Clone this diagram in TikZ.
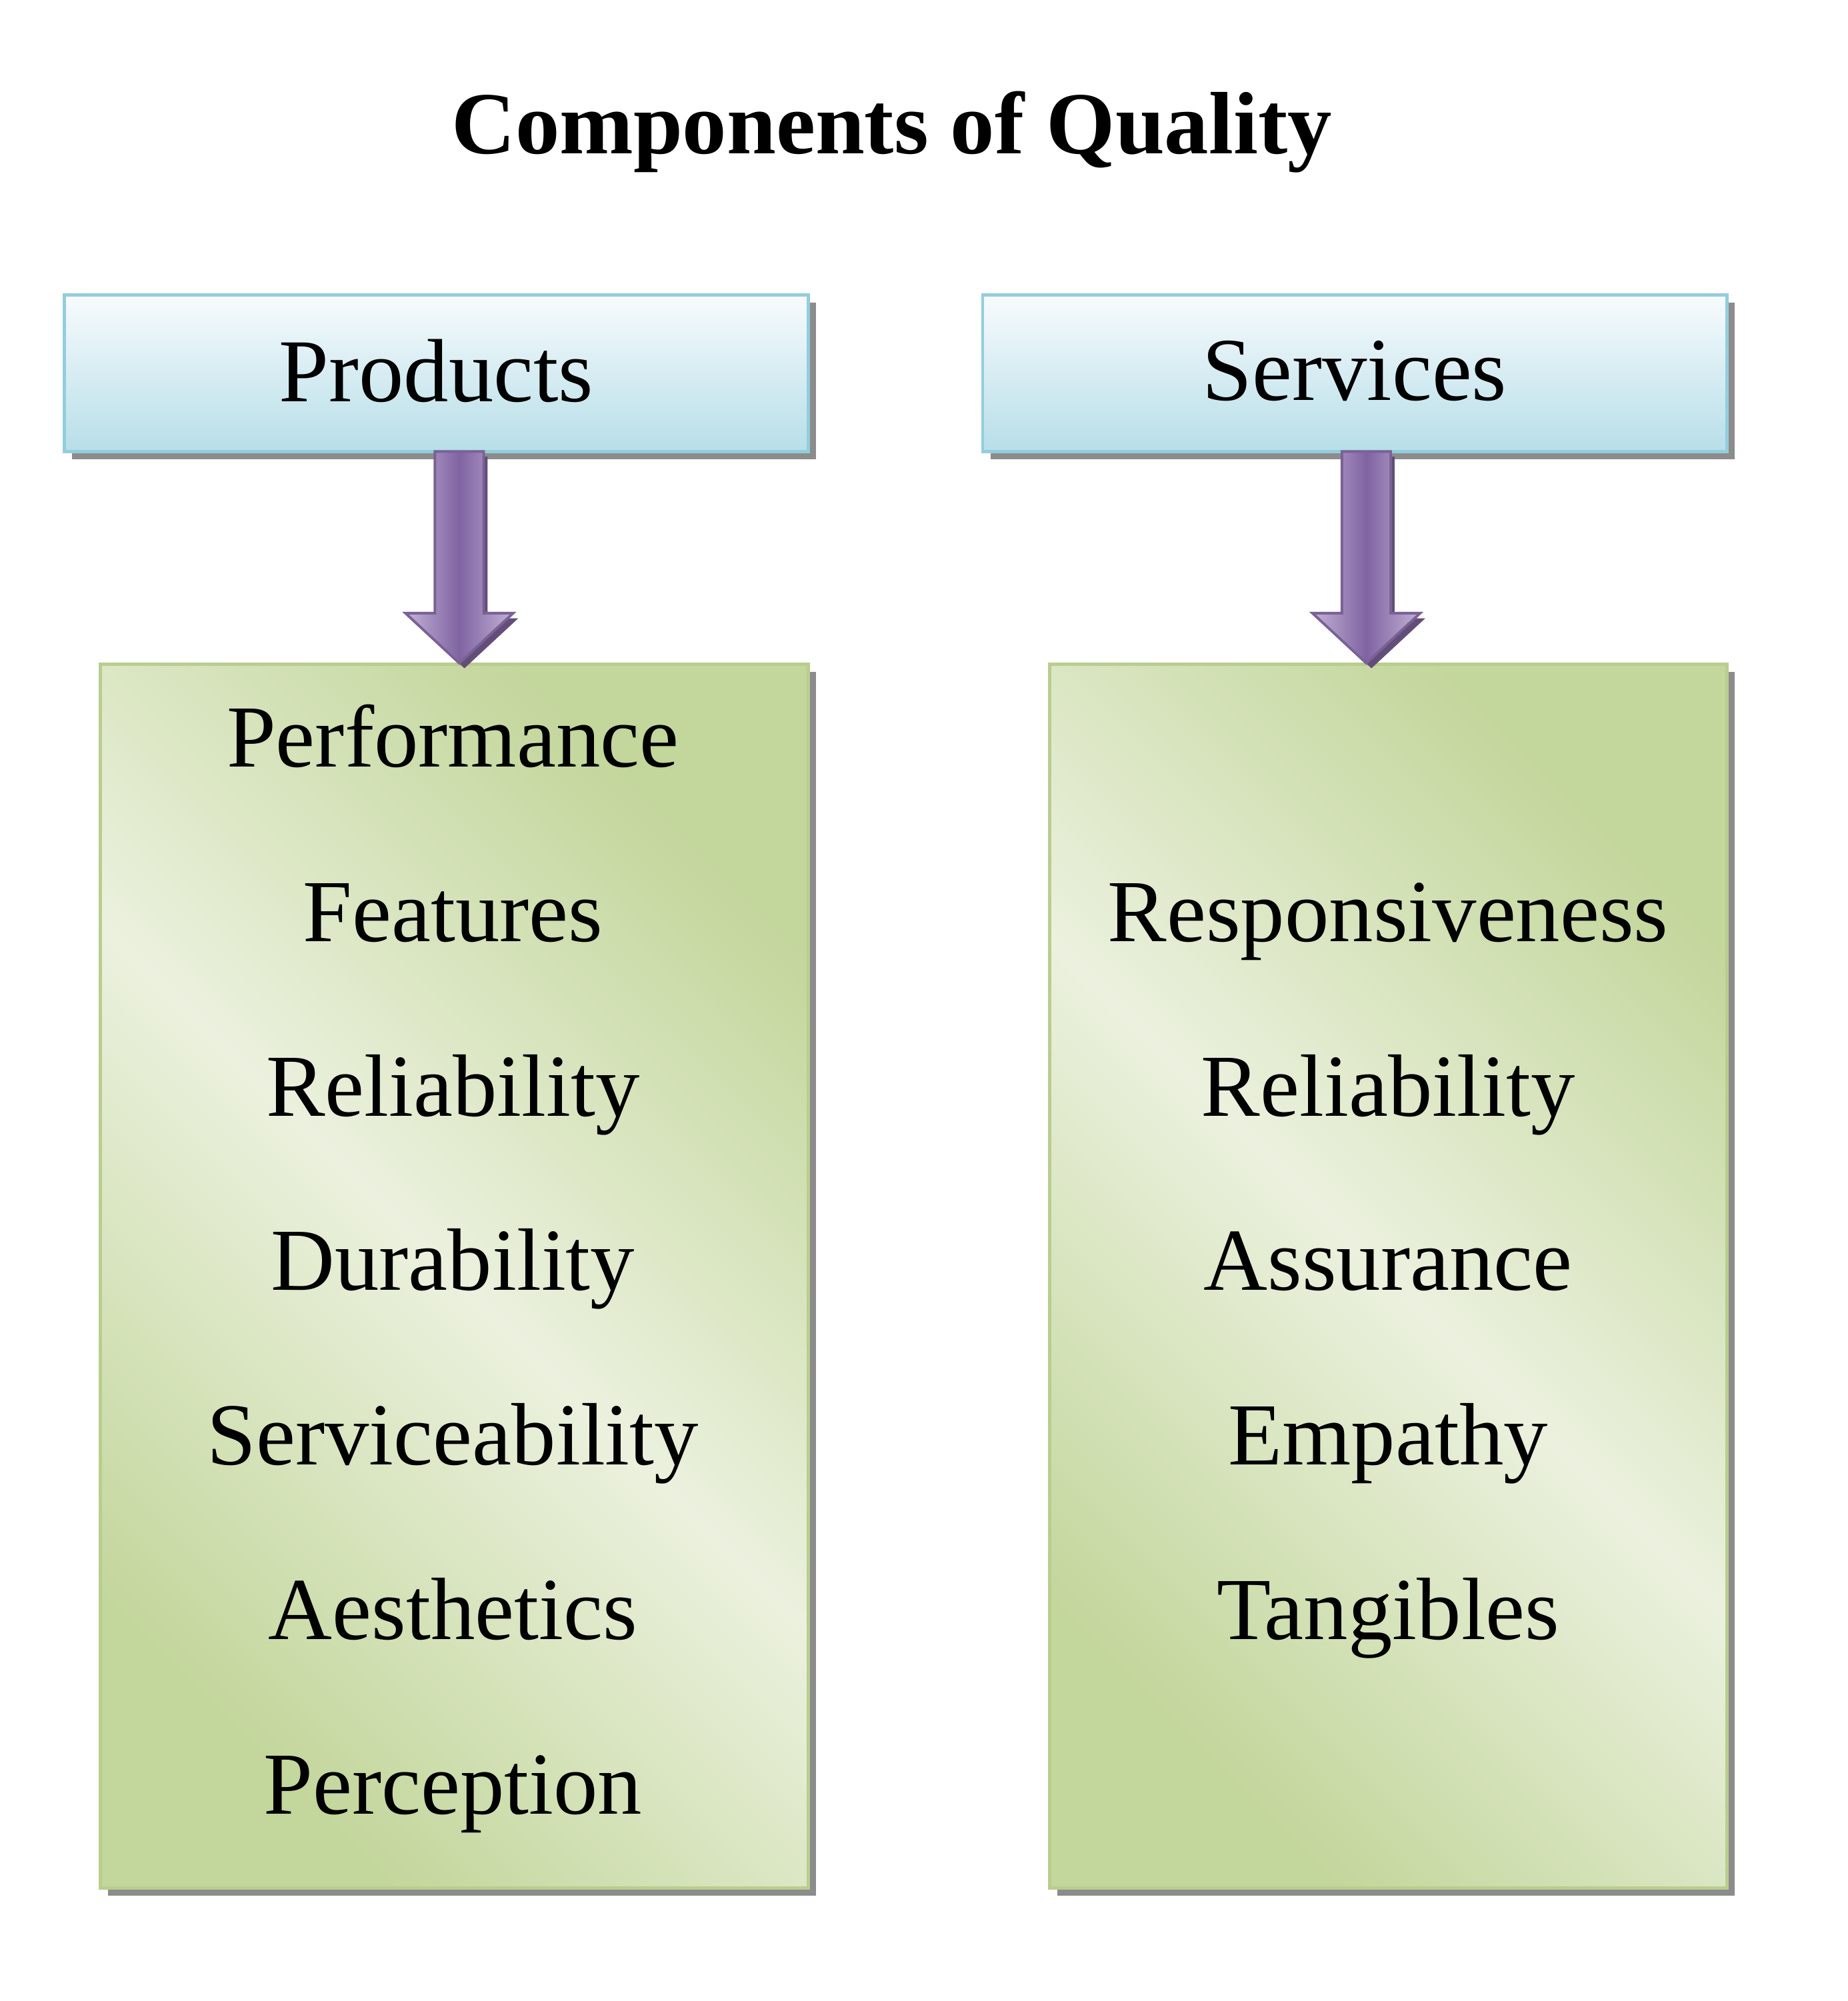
\documentclass[tikz,border=0pt]{standalone}
\usepackage{fontspec}
\setmainfont{Liberation Serif}
\usetikzlibrary{shadings}
\definecolor{bluetop}{HTML}{F7FBFD}
\definecolor{bluebot}{HTML}{B7DEE8}
\definecolor{blueedge}{HTML}{93CDDD}
\definecolor{greenlt}{HTML}{EBF1DE}
\definecolor{greendk}{HTML}{C3D69B}
\definecolor{greenedge}{HTML}{B9CD8F}
\definecolor{purdk}{HTML}{8064A2}
\definecolor{purlt}{HTML}{C2B2D6}
\definecolor{puredge}{HTML}{7A6196}
\begin{document}
\begin{tikzpicture}[x=1pt,y=-1pt,
  headbox/.style={draw=blueedge,line width=2.5pt,top color=bluetop,bottom color=bluebot},
  listbox/.style={draw=greenedge,line width=2.5pt,shading=axis,left color=greendk,right color=greendk,middle color=greenlt,shading angle=-45},
  item/.style={font=\fontsize{69}{72}\selectfont,anchor=base},
  shadowc/.style={fill=black!45}]
\useasboundingbox (0,0) rectangle (1440,1560);
\node[font=\bfseries\fontsize{69}{74}\selectfont] (title) at (695,103) {Components of Quality};
% shadows
\fill[shadowc] (56,236) rectangle (636,358);
\fill[shadowc] (772,236) rectangle (1352,358);
\fill[shadowc] (84,524) rectangle (636,1478);
\fill[shadowc] (824,524) rectangle (1352,1478);
% header boxes
\draw[headbox] (50,230) rectangle (630,352);
\node[font=\fontsize{70}{74}\selectfont] (prod) at (340,289) {Products};
\draw[headbox] (766,230) rectangle (1346,352);
\node[font=\fontsize{70}{74}\selectfont] (serv) at (1056,289) {Services};
% list boxes
\shade[listbox] (78,518) rectangle (630,1472);
\draw[greenedge,line width=2.5pt] (78,518) rectangle (630,1472);
\shade[listbox] (818,518) rectangle (1346,1472);
\draw[greenedge,line width=2.5pt] (818,518) rectangle (1346,1472);
% arrows
\foreach \cx in {358,1065}{
  \fill[puredge!80!black] (\cx-16,356) -- (\cx+22,356) -- (\cx+22,482) -- (\cx+46,482) -- (\cx+4,521) -- (\cx-38,482) -- (\cx-16,482) -- cycle;
  \shade[left color=purlt,right color=purlt,middle color=purdk]
   (\cx-19,352) -- (\cx+19,352) -- (\cx+19,478) -- (\cx+42,478) -- (\cx,517) -- (\cx-42,478) -- (\cx-19,478) -- cycle;
  \draw[puredge,line width=2pt] (\cx-19,352) -- (\cx+19,352) -- (\cx+19,478) -- (\cx+42,478) -- (\cx,517) -- (\cx-42,478) -- (\cx-19,478) -- cycle;
}
% items
\node[item] (p1) at (353,598) {Performance};
\node[item] (p2) at (353,734) {Features};
\node[item] (p3) at (353,870) {Reliability};
\node[item] (p4) at (353,1006) {Durability};
\node[item] (p5) at (353,1142) {Serviceability};
\node[item] (p6) at (353,1278) {Aesthetics};
\node[item] (p7) at (353,1414) {Perception};
\node[item] (s1) at (1082,734) {Responsiveness};
\node[item] (s2) at (1082,870) {Reliability};
\node[item] (s3) at (1082,1006) {Assurance};
\node[item] (s4) at (1082,1142) {Empathy};
\node[item] (s5) at (1082,1278) {Tangibles};
\end{tikzpicture}
\end{document}
